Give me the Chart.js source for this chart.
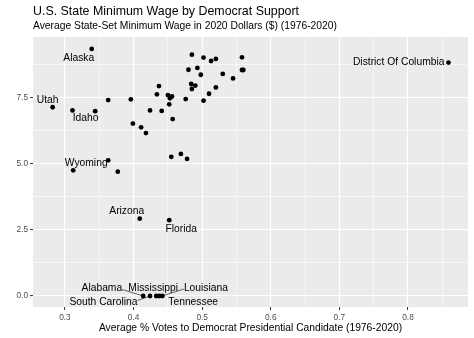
<!DOCTYPE html>
<html><head><meta charset="utf-8">
<script src="https://cdn.jsdelivr.net/npm/chart.js@4.4.1/dist/chart.umd.min.js"></script>
<style>html,body{margin:0;padding:0;background:#fff;}#wrap{width:474px;height:338px;}</style>
</head><body><div id="wrap"><canvas id="c" width="474" height="338"></canvas></div>
<script>
const titleText = "U.S. State Minimum Wage by Democrat Support";
const subtitleText = "Average State-Set Minimum Wage in 2020 Dollars ($) (1976-2020)";
const xAxisTitle = "Average % Votes to Democrat Presidential Candidate (1976-2020)";

const states = ["Alaska","Utah","Idaho","Nebraska","Oklahoma","Kansas","Texas","North Dakota","South Dakota","Indiana",
  "Montana","New Hampshire","North Carolina","Kentucky","Nevada","Oregon","California","Connecticut","Washington","Colorado",
  "Maine","Vermont","New Jersey","Illinois","Massachusetts","Rhode Island","Iowa","Minnesota","Delaware","Maryland",
  "Ohio","Missouri","West Virginia","Virginia","Michigan","Pennsylvania","Wisconsin","New Mexico","Arkansas","Georgia",
  "Hawaii","Wyoming","New York","Arizona","Florida","District Of Columbia",
  "Alabama","South Carolina","Mississippi","Tennessee","Louisiana"];
const demVote = [0.339,0.282,0.311,0.344,0.363,0.396,0.399,0.411,0.418,0.424,
  0.434,0.437,0.441,0.457,0.485,0.502,0.513,0.520,0.558,0.480,
  0.493,0.498,0.530,0.545,0.558,0.560,0.484,0.490,0.485,0.520,
  0.450,0.456,0.453,0.452,0.510,0.476,0.502,0.455,0.469,0.478,
  0.363,0.312,0.377,0.409,0.452,0.859,
  0.414,0.424,0.433,0.4375,0.442];
const minWage = [9.36,7.15,7.03,7.00,7.42,7.45,6.53,6.39,6.17,7.03,
  7.64,7.95,7.01,6.70,9.14,9.03,8.90,8.98,9.04,8.57,
  8.64,8.38,8.41,8.24,8.56,8.56,8.03,7.97,7.84,7.90,
  7.61,7.56,7.49,7.26,7.66,7.46,7.40,5.27,5.38,5.19,
  5.14,4.76,4.71,2.93,2.87,8.84,
  0,0,0,0,0];

const xTickValues = [0.3,0.4,0.5,0.6,0.7,0.8];
const xTickLabels = ["0.3","0.4","0.5","0.6","0.7","0.8"];
const xMinorValues = [0.35,0.45,0.55,0.65,0.75,0.85];
const yTickValues = [0,2.5,5,7.5];
const yTickLabels = ["0.0","2.5","5.0","7.5"];
const yMinorValues = [1.25,3.75,6.25,8.75];

// label placement (pixel offsets from the point), leader-line start offsets
const labelStyle = {
  "Alaska": {dx:-13, dy:9, align:"center"},
  "Utah": {dx:-5, dy:-7, align:"center"},
  "Idaho": {dx:13, dy:8, align:"center"},
  "Wyoming": {dx:13, dy:-7, align:"center"},
  "Arizona": {dx:-13, dy:-7, align:"center"},
  "Florida": {dx:12, dy:9, align:"center"},
  "District Of Columbia": {dx:-4, dy:0, align:"right"},
  "Alabama": {dx:-21, dy:-7.5, align:"right", line:[-21,-6.5]},
  "South Carolina": {dx:-12.5, dy:6, align:"right", line:[-12.5,4.5]},
  "Mississippi": {dx:-3, dy:-7.5, align:"center"},
  "Tennessee": {dx:9, dy:6, align:"left"},
  "Louisiana": {dx:21.5, dy:-7.5, align:"left", line:[21.5,-7]}
};

const FONT = '"Liberation Sans", Arial, Helvetica, sans-serif';
const near = (a, b) => Math.abs(a - b) < 1e-6;
const isIn = (arr, v) => arr.some(t => near(t, v));

const bgPlugin = {
  id: 'bg',
  beforeDraw(chart) {
    const {ctx, chartArea: a} = chart;
    ctx.save();
    ctx.fillStyle = '#ffffff';
    ctx.fillRect(0, 0, chart.width, chart.height);
    ctx.fillStyle = '#EBEBEB';
    ctx.fillRect(a.left, a.top, a.right - a.left, a.bottom - a.top);
    ctx.restore();
  }
};

const textPlugin = {
  id: 'texts',
  afterDraw(chart) {
    const {ctx} = chart;
    const xs = chart.scales.x, ys = chart.scales.y;
    ctx.save();
    ctx.fillStyle = '#000';
    ctx.textBaseline = 'alphabetic';
    ctx.textAlign = 'left';
    ctx.font = '12.4px ' + FONT;
    ctx.fillText(titleText, 33, 15.3);
    ctx.font = '10.3px ' + FONT;
    ctx.fillText(subtitleText, 33, 28.6);
    // data labels
    ctx.font = '10.3px ' + FONT;
    ctx.textBaseline = 'middle';
    states.forEach((s, i) => {
      const st = labelStyle[s];
      if (!st) return;
      const px = xs.getPixelForValue(demVote[i]);
      const py = ys.getPixelForValue(minWage[i]);
      if (st.line) {
        ctx.strokeStyle = '#000';
        ctx.lineWidth = 0.6;
        ctx.beginPath();
        ctx.moveTo(px + st.line[0], py + st.line[1]);
        ctx.lineTo(px, py);
        ctx.stroke();
      }
      ctx.textAlign = st.align;
      ctx.fillText(s, px + st.dx, py + st.dy);
    });
    ctx.restore();
  }
};

const gridColor = '#FFFFFF';

new Chart(document.getElementById('c').getContext('2d'), {
  type: 'scatter',
  data: {
    datasets: [{
      data: states.map((s, i) => ({x: demVote[i], y: minWage[i]})),
      pointRadius: 2.4,
      pointHoverRadius: 2.4,
      pointBackgroundColor: '#000',
      pointBorderWidth: 0,
      pointBorderColor: '#000'
    }]
  },
  options: {
    responsive: false,
    animation: false,
    devicePixelRatio: 1,
    events: [],
    layout: {padding: {top: 37, right: 6, left: 0, bottom: 0}},
    plugins: {legend: {display: false}, tooltip: {enabled: false}},
    scales: {
      x: {
        type: 'linear', min: 0.2534, max: 0.8875,
        afterBuildTicks: s => { s.ticks = [...xTickValues, ...xMinorValues].sort((a,b)=>a-b).map(v => ({value: v})); },
        afterFit: s => { s.height = 31; },
        ticks: {
          autoSkip: false, maxRotation: 0, minRotation: 0, padding: 3,
          color: '#4D4D4D', font: {family: FONT, size: 8.3},
          callback: (v) => { const i = xTickValues.findIndex(t => near(t, v)); return i >= 0 ? xTickLabels[i] : ''; }
        },
        grid: {
          color: gridColor,
          lineWidth: c => isIn(xTickValues, c.tick.value) ? 1.1 : 0.55,
          tickLength: 3,
          tickColor: c => isIn(xTickValues, c.tick.value) ? '#333333' : 'rgba(0,0,0,0)',
          tickWidth: 1
        },
        border: {display: false},
        title: {display: true, text: xAxisTitle, color: '#000', font: {family: FONT, size: 10.3}, padding: {top: 0, bottom: 4}}
      },
      y: {
        type: 'linear', min: -0.417, max: 9.81,
        afterBuildTicks: s => { s.ticks = [...yTickValues, ...yMinorValues].sort((a,b)=>a-b).map(v => ({value: v})); },
        afterFit: s => { s.width = 33; },
        ticks: {
          autoSkip: false, padding: 2,
          color: '#4D4D4D', font: {family: FONT, size: 8.3},
          callback: (v) => { const i = yTickValues.findIndex(t => near(t, v)); return i >= 0 ? yTickLabels[i] : ''; }
        },
        grid: {
          color: gridColor,
          lineWidth: c => isIn(yTickValues, c.tick.value) ? 1.1 : 0.55,
          tickLength: 3,
          tickColor: c => isIn(yTickValues, c.tick.value) ? '#333333' : 'rgba(0,0,0,0)',
          tickWidth: 1
        },
        border: {display: false}
      }
    }
  },
  plugins: [bgPlugin, textPlugin]
});
</script>
</body></html>
